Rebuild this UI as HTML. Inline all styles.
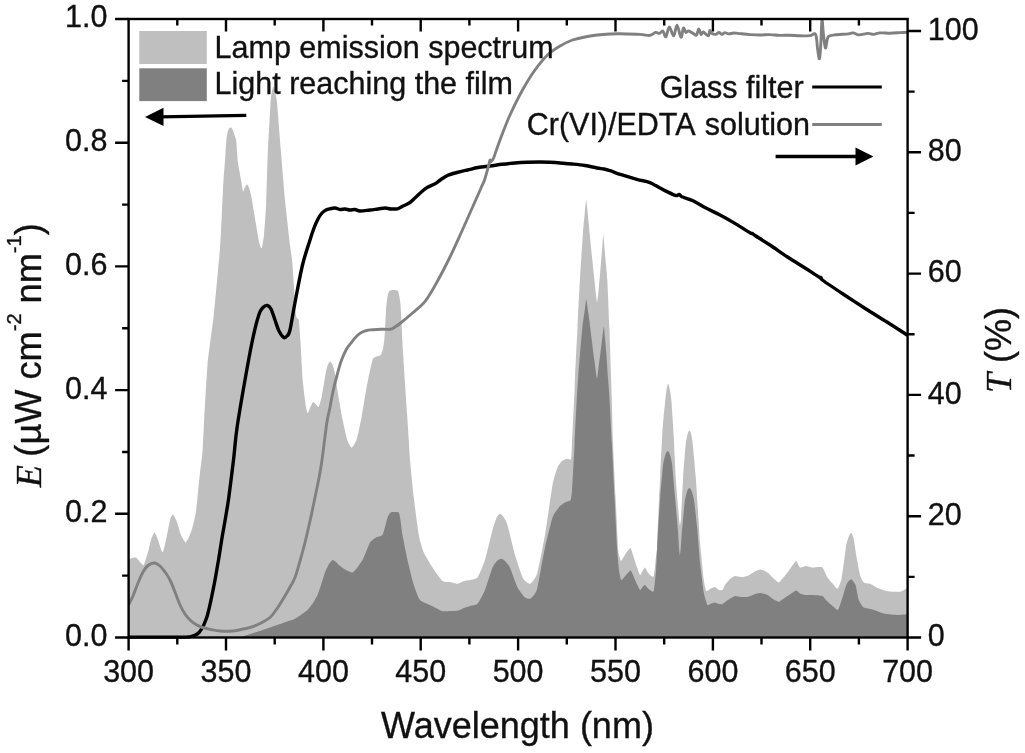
<!DOCTYPE html>
<html lang="en"><head><meta charset="utf-8"><title>Lamp emission and transmittance spectra</title>
<style>html,body{margin:0;padding:0;background:#fff}body{width:1025px;height:753px;overflow:hidden}svg{display:block}text{font-family:"Liberation Sans",Arial,sans-serif;fill:#111}text{stroke:#111;stroke-width:.35px}.tk{font-size:30.5px}.lg{font-size:30.5px}.tt{font-size:36px}.it{font-family:"Liberation Serif","Times New Roman",serif;font-style:italic}</style></head><body>
<svg width="1025" height="753" viewBox="0 0 1025 753">
<rect width="1025" height="753" fill="#fff"/>
<defs><clipPath id="pc"><rect x="128.6" y="19.0" width="779.0" height="619.8"/></clipPath></defs>
<g clip-path="url(#pc)">
<path d="M128.6,560.0 C128.9,559.8 131.3,558.2 132.0,558.0 C132.7,557.8 135.3,557.1 136.0,557.5 C136.7,557.9 139.3,561.3 140.0,562.0 C140.7,562.7 143.0,565.9 143.8,565.0 C144.5,564.1 147.3,554.2 148.0,552.0 C148.7,549.8 150.4,541.8 151.0,540.0 C151.6,538.2 153.9,532.5 154.5,532.5 C155.1,532.5 157.3,538.2 158.0,540.0 C158.7,541.8 161.8,552.5 162.5,552.5 C163.2,552.5 165.3,542.9 166.0,540.0 C166.7,537.1 169.4,522.3 170.0,520.0 C170.6,517.7 172.4,514.3 173.0,514.5 C173.6,514.7 176.3,520.2 177.0,522.0 C177.7,523.8 180.2,533.2 181.0,535.0 C181.8,536.8 184.8,542.3 185.5,542.5 C186.2,542.7 188.4,538.4 189.0,537.0 C189.6,535.6 191.8,529.9 192.5,527.5 C193.2,525.1 195.6,515.0 196.2,510.0 C196.9,505.1 199.4,477.7 200.0,472.5 C200.6,467.3 202.2,456.0 202.5,452.0 C202.8,448.0 203.3,435.8 203.8,428.0 C204.2,420.2 206.6,375.2 207.5,365.0 C208.4,354.8 212.6,325.5 213.8,315.0 C214.9,304.5 219.3,257.0 220.0,248.0 C220.7,239.0 221.5,220.9 221.8,215.0 C222.1,209.1 223.1,187.1 223.4,182.0 C223.7,176.9 224.9,161.7 225.2,158.0 C225.5,154.3 226.1,143.4 226.3,141.0 C226.5,138.6 227.5,132.7 227.8,131.5 C228.1,130.3 229.2,128.4 229.5,128.0 C229.8,127.6 231.0,127.3 231.2,127.5 C231.5,127.7 232.5,129.3 232.8,130.0 C233.1,130.7 234.2,134.0 234.5,135.0 C234.8,136.0 236.0,138.6 236.3,141.0 C236.6,143.4 237.5,159.0 237.8,161.8 C238.1,164.6 239.3,170.1 239.6,172.0 C239.9,173.9 241.2,180.6 241.5,182.4 C241.8,184.2 242.8,191.2 243.1,191.6 C243.4,192.0 244.6,187.6 245.0,187.0 C245.4,186.4 246.8,184.2 247.2,184.4 C247.6,184.6 249.1,187.7 249.5,189.0 C249.9,190.3 251.4,196.8 251.8,198.8 C252.2,200.8 253.4,208.8 253.8,211.0 C254.2,213.2 255.4,220.8 255.9,223.6 C256.4,226.4 258.5,239.8 259.0,242.0 C259.5,244.2 261.2,249.0 261.7,248.3 C262.2,247.6 263.7,238.1 264.1,234.0 C264.5,229.9 265.9,210.6 266.2,203.0 C266.5,195.4 267.6,157.0 267.9,150.0 C268.2,143.0 269.1,129.3 269.3,125.0 C269.5,120.7 270.4,105.0 270.6,102.0 C270.8,99.0 271.5,93.4 271.8,92.0 C272.1,90.6 273.1,86.5 273.4,86.5 C273.7,86.5 274.9,90.6 275.2,92.0 C275.5,93.4 276.7,99.0 277.0,102.0 C277.3,105.0 278.5,120.7 278.8,125.0 C279.1,129.3 280.2,143.2 280.8,150.0 C281.4,156.8 284.2,191.4 285.0,200.0 C285.8,208.6 289.3,239.2 290.0,245.0 C290.7,250.8 292.0,258.7 292.5,265.0 C293.0,271.3 295.4,310.1 296.0,315.0 C296.6,319.9 298.4,317.8 298.8,320.0 C299.1,322.2 300.0,334.6 300.4,340.0 C300.8,345.4 302.2,374.0 302.7,380.0 C303.2,386.0 305.5,404.0 306.0,407.0 C306.5,410.0 307.4,413.2 307.8,413.3 C308.2,413.4 309.5,409.0 310.0,408.0 C310.5,407.0 312.5,402.3 313.0,402.0 C313.5,401.7 315.5,404.1 316.0,404.5 C316.5,404.9 318.2,407.8 318.7,407.0 C319.2,406.2 321.3,399.0 321.9,395.8 C322.5,392.6 325.4,374.7 325.9,371.9 C326.4,369.1 327.6,365.4 328.0,364.5 C328.4,363.6 329.8,361.5 330.2,361.5 C330.6,361.5 332.1,363.6 332.5,364.5 C332.9,365.4 334.1,369.4 334.6,371.9 C335.1,374.4 337.1,388.3 337.8,392.6 C338.5,396.9 341.7,415.4 342.6,419.7 C343.5,424.0 346.6,437.9 347.4,440.4 C348.2,442.9 350.9,447.7 351.8,447.6 C352.7,447.5 356.0,441.6 356.9,438.8 C357.8,436.0 360.8,421.1 361.7,416.5 C362.6,411.9 365.8,391.8 366.5,387.8 C367.2,383.8 369.1,374.5 369.7,371.9 C370.3,369.3 372.3,360.4 372.9,359.0 C373.5,357.6 375.8,356.9 376.5,356.5 C377.2,356.1 380.2,355.8 380.8,355.0 C381.4,354.2 382.9,349.4 383.2,348.0 C383.5,346.6 384.1,341.6 384.3,340.0 C384.5,338.4 384.8,332.7 385.0,330.0 C385.2,327.3 385.8,313.1 386.0,310.0 C386.2,306.9 387.3,297.7 387.6,296.0 C387.9,294.3 388.8,291.5 389.3,291.0 C389.8,290.5 392.9,290.0 393.7,290.0 C394.5,290.0 397.4,290.1 398.0,291.0 C398.6,291.9 399.7,298.2 400.0,300.0 C400.3,301.8 400.6,306.3 400.9,311.0 C401.2,315.7 402.6,345.5 403.0,352.0 C403.4,358.5 404.6,377.4 405.0,383.0 C405.4,388.6 406.8,409.3 407.1,414.0 C407.4,418.7 408.2,431.5 408.5,435.6 C408.8,439.7 409.5,454.4 410.0,460.0 C410.5,465.6 413.0,490.8 413.8,497.5 C414.5,504.2 417.9,530.0 418.8,535.0 C419.6,540.0 422.5,549.6 423.8,552.5 C425.0,555.4 430.8,564.9 432.5,567.5 C434.2,570.1 440.9,579.7 442.5,581.0 C444.1,582.3 448.6,581.8 450.0,582.0 C451.4,582.2 456.2,583.8 457.5,583.8 C458.8,583.7 462.9,581.3 464.0,581.0 C465.1,580.7 468.8,580.3 470.0,580.0 C471.2,579.7 476.1,579.3 477.5,577.5 C478.9,575.7 483.6,564.3 485.0,560.0 C486.4,555.7 491.5,533.8 492.5,530.0 C493.5,526.2 495.8,519.5 496.5,518.0 C497.2,516.5 499.4,513.8 500.0,513.8 C500.6,513.7 502.8,516.0 503.5,517.0 C504.2,518.0 506.5,521.6 507.5,525.0 C508.5,528.4 513.6,550.3 515.0,555.0 C516.4,559.7 521.4,575.0 522.5,577.5 C523.6,580.0 526.3,581.9 527.0,582.5 C527.7,583.1 529.5,583.9 530.0,583.8 C530.5,583.6 532.3,582.0 533.0,581.0 C533.7,580.0 536.4,576.6 537.5,572.5 C538.6,568.4 543.6,542.9 545.0,535.0 C546.4,527.1 551.4,491.1 552.5,485.0 C553.6,478.9 556.6,469.7 557.5,467.5 C558.4,465.3 561.1,461.8 562.0,461.0 C562.9,460.2 566.7,458.9 567.5,458.8 C568.3,458.6 570.6,460.4 571.0,459.0 C571.4,457.6 571.7,449.4 572.0,443.2 C572.3,437.0 574.3,396.1 574.6,390.0 C574.9,383.9 574.8,381.2 575.1,375.6 C575.4,370.0 577.1,336.4 577.5,327.8 C577.9,319.2 579.4,288.4 579.9,280.0 C580.4,271.6 582.4,240.7 582.8,234.8 C583.2,229.0 584.3,218.1 584.6,215.0 C584.9,211.9 585.9,200.0 586.2,200.0 C586.5,200.0 587.6,211.9 587.9,215.0 C588.2,218.1 589.4,230.3 589.8,234.8 C590.2,239.3 592.3,259.5 592.8,264.7 C593.3,269.9 595.4,289.2 595.8,292.6 C596.2,296.0 596.7,302.7 597.0,302.3 C597.3,301.9 598.5,292.0 598.8,288.6 C599.1,285.2 600.5,268.4 600.8,264.7 C601.1,261.0 602.0,250.7 602.2,248.0 C602.4,245.3 603.1,234.8 603.3,234.8 C603.5,234.8 604.3,245.3 604.5,248.0 C604.7,250.7 605.7,261.8 606.0,264.7 C606.3,267.6 607.1,277.3 607.3,280.0 C607.5,282.7 607.8,290.3 608.0,294.6 C608.2,298.9 609.1,320.5 609.4,327.8 C609.7,335.1 610.8,369.1 611.0,375.6 C611.2,382.1 611.6,393.9 611.8,400.0 C612.0,406.1 612.7,434.4 613.0,443.0 C613.3,451.6 615.0,486.4 615.5,496.0 C616.0,505.6 617.8,544.1 618.2,549.6 C618.6,555.1 619.2,556.0 619.5,557.0 C619.8,558.0 620.7,561.4 621.2,561.0 C621.8,560.6 625.2,554.2 626.0,553.0 C626.8,551.8 629.9,547.8 630.5,548.0 C631.1,548.2 632.5,553.5 633.0,555.0 C633.5,556.5 635.6,563.2 636.2,565.0 C636.9,566.8 639.4,574.5 640.0,575.0 C640.6,575.5 642.0,571.7 642.5,571.0 C643.0,570.3 644.5,567.4 645.0,567.5 C645.5,567.6 647.0,571.3 647.5,572.0 C648.0,572.7 649.4,574.6 650.0,575.0 C650.6,575.4 653.2,577.8 653.8,576.0 C654.3,574.2 656.0,557.5 656.2,555.0 C656.5,552.5 656.8,551.2 657.0,548.0 C657.2,544.8 657.8,525.4 658.1,519.0 C658.4,512.6 659.8,484.1 660.2,476.4 C660.6,468.7 661.9,440.5 662.3,433.8 C662.7,427.1 664.7,405.8 665.1,402.0 C665.5,398.2 666.0,393.4 666.2,392.0 C666.4,390.6 666.9,387.2 667.1,386.5 C667.3,385.8 667.9,383.8 668.1,383.8 C668.3,383.8 668.9,385.8 669.1,386.5 C669.3,387.2 670.0,390.6 670.2,392.0 C670.4,393.4 671.2,398.2 671.5,402.0 C671.8,405.8 673.2,427.1 673.6,433.8 C674.0,440.5 675.3,469.5 675.7,476.4 C676.1,483.3 677.9,505.6 678.3,510.0 C678.7,514.4 679.6,524.2 679.8,525.0 C680.0,525.8 680.6,523.3 680.9,518.9 C681.2,514.5 682.8,483.1 683.2,476.4 C683.6,469.7 685.3,448.1 685.7,444.5 C686.1,440.9 687.0,437.1 687.2,436.0 C687.4,434.9 688.1,432.5 688.3,432.0 C688.5,431.5 689.2,430.6 689.4,430.6 C689.6,430.6 690.3,431.5 690.5,432.0 C690.7,432.5 691.4,434.9 691.6,436.0 C691.8,437.1 692.4,440.9 692.8,444.5 C693.2,448.1 695.2,469.7 695.7,476.4 C696.2,483.1 698.1,513.0 698.5,518.9 C698.9,524.8 699.5,537.0 700.0,542.5 C700.5,548.0 703.2,575.6 703.8,580.0 C704.3,584.4 705.7,590.2 706.2,591.0 C706.8,591.8 709.2,589.4 710.0,589.0 C710.8,588.6 714.2,586.9 715.0,587.0 C715.8,587.1 718.3,589.7 719.0,590.0 C719.7,590.3 722.0,590.5 722.5,590.0 C723.0,589.5 724.3,586.0 725.0,585.0 C725.7,584.0 729.1,579.8 730.0,579.0 C730.9,578.2 734.0,576.2 735.0,576.0 C736.0,575.8 739.9,577.0 741.0,577.0 C742.1,577.0 746.3,576.5 747.5,576.0 C748.7,575.5 752.9,572.6 754.0,572.0 C755.1,571.4 758.8,569.5 760.0,569.5 C761.2,569.5 766.3,571.7 767.5,572.5 C768.7,573.3 772.0,577.1 773.0,578.0 C774.0,578.9 777.9,582.5 778.8,582.5 C779.6,582.5 782.2,578.9 783.0,578.0 C783.8,577.1 786.7,573.6 787.5,572.5 C788.3,571.4 791.2,567.0 792.0,566.0 C792.8,565.0 795.5,560.9 796.2,561.0 C797.0,561.1 799.1,567.0 800.0,567.5 C800.9,568.0 804.9,566.0 806.0,566.0 C807.1,566.0 811.4,567.4 812.5,567.5 C813.6,567.6 817.1,567.0 818.0,567.0 C818.9,567.0 821.6,566.6 822.5,567.5 C823.4,568.4 826.6,576.1 827.5,577.5 C828.4,578.9 831.1,582.0 832.0,583.0 C832.9,584.0 836.7,589.0 837.5,588.8 C838.3,588.5 840.7,582.4 841.2,580.0 C841.8,577.6 843.5,565.1 844.0,562.0 C844.5,558.9 845.8,547.3 846.2,545.0 C846.7,542.7 848.5,537.1 849.0,536.0 C849.5,534.9 850.8,532.8 851.2,533.0 C851.7,533.2 853.0,536.0 853.5,538.0 C854.0,540.0 855.7,551.7 856.2,555.0 C856.8,558.3 859.3,572.5 860.0,575.0 C860.7,577.5 862.9,581.7 863.8,582.5 C864.6,583.3 868.8,583.3 870.0,583.8 C871.2,584.2 875.9,587.3 877.5,588.0 C879.1,588.7 885.5,590.9 887.5,591.2 C889.5,591.6 898.3,592.0 900.0,591.8 C901.7,591.5 905.6,589.1 906.2,588.8 C906.9,588.4 907.5,588.1 907.6,588.0 L907.6,637.5 L128.6,637.5 Z" fill="#bfbfbf"/>
<path d="M240.0,637.5 C240.9,637.2 248.2,634.6 250.0,634.0 C251.8,633.4 258.2,631.6 260.0,631.0 C261.8,630.4 267.9,628.2 270.0,627.5 C272.1,626.8 280.8,623.8 283.0,623.0 C285.2,622.2 293.3,619.6 295.0,618.8 C296.7,617.9 300.9,614.8 302.0,614.0 C303.1,613.2 306.5,611.0 307.5,610.0 C308.5,609.0 312.1,604.4 313.0,603.0 C313.9,601.6 316.8,596.6 317.5,595.0 C318.2,593.4 320.3,587.0 321.0,585.0 C321.7,583.0 324.3,574.4 325.0,572.5 C325.7,570.6 328.3,565.1 329.0,564.0 C329.7,562.9 331.9,560.2 332.5,560.0 C333.1,559.8 335.3,561.5 336.0,562.0 C336.7,562.5 339.1,565.3 340.0,566.0 C340.9,566.7 344.9,569.4 346.0,570.0 C347.1,570.6 351.5,572.7 352.5,572.5 C353.5,572.3 356.1,569.1 357.0,568.0 C357.9,566.9 361.7,561.4 362.5,560.0 C363.3,558.6 365.3,553.6 366.0,552.0 C366.7,550.4 369.4,543.6 370.0,542.5 C370.6,541.4 372.0,540.5 372.5,540.0 C373.0,539.5 375.1,538.0 376.0,537.5 C376.9,537.0 381.7,535.9 382.5,535.0 C383.3,534.1 384.6,528.6 385.0,527.0 C385.4,525.4 387.1,518.8 387.5,517.5 C387.9,516.2 389.6,513.5 390.0,513.0 C390.4,512.5 391.7,512.0 392.5,512.0 C393.3,512.0 398.0,511.8 398.8,512.5 C399.5,513.2 400.2,518.0 400.5,520.0 C400.8,522.0 401.9,531.4 402.5,535.0 C403.1,538.6 406.5,555.5 407.5,560.0 C408.5,564.5 412.6,581.4 413.8,585.0 C414.9,588.6 418.5,598.2 420.0,600.0 C421.5,601.8 428.6,604.3 430.0,605.0 C431.4,605.7 434.9,607.4 436.0,608.0 C437.1,608.6 441.2,611.0 442.5,611.2 C443.8,611.5 448.6,611.0 450.0,611.0 C451.4,611.0 456.2,611.0 457.5,610.8 C458.8,610.5 462.9,608.4 464.0,608.0 C465.1,607.6 468.8,606.4 470.0,606.0 C471.2,605.6 476.1,605.2 477.5,603.8 C478.9,602.3 483.6,593.3 485.0,590.0 C486.4,586.7 491.4,570.1 492.5,567.5 C493.6,564.9 496.2,561.8 497.0,561.0 C497.8,560.2 500.5,558.8 501.2,558.8 C502.0,558.8 504.2,560.2 505.0,561.0 C505.8,561.8 508.9,565.1 510.0,567.5 C511.1,569.9 516.1,584.8 517.5,587.5 C518.9,590.2 523.9,596.5 525.0,597.5 C526.1,598.5 529.2,599.0 530.0,598.8 C530.8,598.5 533.3,596.0 534.0,595.0 C534.7,594.0 536.5,591.8 537.5,587.5 C538.5,583.2 543.6,553.8 545.0,547.5 C546.4,541.2 551.4,520.9 552.5,517.5 C553.6,514.1 556.3,511.0 557.0,510.0 C557.7,509.0 559.3,506.7 560.0,506.0 C560.7,505.3 564.2,502.9 565.0,502.5 C565.8,502.1 568.2,501.2 568.8,501.0 C569.3,500.8 570.3,500.9 570.6,500.0 C570.9,499.1 571.6,496.1 572.0,491.0 C572.4,485.9 574.2,451.4 574.6,443.2 C575.0,435.0 576.4,406.1 576.7,400.0 C577.0,393.9 577.8,382.1 578.3,375.6 C578.8,369.1 581.7,333.5 582.3,327.8 C582.9,322.1 584.1,314.5 584.5,312.0 C584.9,309.5 586.0,299.5 586.3,299.5 C586.6,299.5 587.8,309.5 588.2,312.0 C588.6,314.5 589.8,323.5 590.3,327.8 C590.8,332.1 593.7,355.1 594.3,359.7 C594.9,364.3 596.6,378.3 597.0,378.8 C597.4,379.3 598.5,367.4 598.8,365.0 C599.1,362.6 600.3,354.1 600.6,351.7 C600.9,349.3 602.0,340.3 602.3,338.0 C602.6,335.7 603.6,326.2 603.8,326.2 C604.0,326.2 604.8,335.7 605.0,338.0 C605.2,340.3 605.9,348.3 606.2,351.7 C606.5,355.1 607.5,371.7 607.8,375.6 C608.1,379.5 608.9,388.9 609.3,395.0 C609.7,401.1 611.4,434.1 611.9,443.2 C612.4,452.3 614.0,486.8 614.5,496.4 C615.0,506.0 616.8,543.0 617.2,549.6 C617.6,556.2 618.6,567.3 619.0,570.0 C619.4,572.7 620.6,579.5 621.2,580.0 C621.9,580.5 625.2,575.9 626.0,575.0 C626.8,574.1 629.9,570.5 630.5,570.5 C631.1,570.5 632.5,573.9 633.0,575.0 C633.5,576.1 635.6,581.1 636.2,582.5 C636.9,583.9 639.4,589.6 640.0,590.0 C640.6,590.4 642.0,587.5 642.5,587.0 C643.0,586.5 644.5,584.9 645.0,585.0 C645.5,585.1 647.0,587.5 647.5,588.0 C648.0,588.5 649.4,589.7 650.0,590.0 C650.6,590.3 653.2,593.0 653.8,591.0 C654.3,589.0 655.9,573.0 656.2,567.5 C656.6,562.0 657.7,536.3 658.1,530.0 C658.5,523.7 659.8,503.5 660.2,497.7 C660.6,491.9 662.6,469.3 663.0,465.7 C663.4,462.1 664.2,459.1 664.5,458.0 C664.8,456.9 665.7,453.6 666.0,453.0 C666.3,452.4 667.4,451.0 667.7,451.0 C668.0,451.0 669.1,452.4 669.4,453.0 C669.7,453.6 670.6,456.9 670.9,458.0 C671.2,459.1 671.9,462.1 672.3,465.7 C672.7,469.3 674.6,491.9 675.1,497.7 C675.6,503.5 677.5,525.5 677.9,530.0 C678.3,534.5 678.8,545.8 679.0,548.0 C679.2,550.2 679.6,555.0 679.8,555.0 C680.0,555.0 680.6,550.2 680.8,548.0 C681.0,545.8 681.7,534.1 682.1,530.0 C682.5,525.9 684.3,505.1 684.7,501.9 C685.1,498.7 686.0,495.1 686.3,494.0 C686.6,492.9 687.5,490.0 687.8,489.5 C688.1,489.0 689.1,488.1 689.4,488.1 C689.7,488.1 690.7,489.0 691.0,489.5 C691.3,490.0 692.3,492.9 692.6,494.0 C692.9,495.1 693.9,498.7 694.3,501.9 C694.7,505.1 697.0,525.9 697.4,530.0 C697.8,534.1 698.5,545.1 698.8,548.0 C699.0,550.9 699.5,558.5 700.0,562.5 C700.5,566.5 703.1,588.7 703.8,592.5 C704.4,596.3 706.8,604.0 707.5,605.0 C708.2,606.0 710.3,603.7 711.0,603.5 C711.7,603.3 714.3,602.5 715.0,602.5 C715.7,602.5 718.3,603.9 719.0,604.0 C719.7,604.1 721.7,604.4 722.5,604.0 C723.3,603.6 726.9,600.7 728.0,600.0 C729.1,599.3 733.8,596.3 735.0,596.0 C736.2,595.7 739.9,596.9 741.0,597.0 C742.1,597.1 746.3,597.2 747.5,597.0 C748.7,596.8 752.9,594.9 754.0,594.5 C755.1,594.1 758.8,593.0 760.0,593.0 C761.2,593.0 766.3,594.5 767.5,595.0 C768.7,595.5 772.0,598.4 773.0,599.0 C774.0,599.6 777.9,601.8 778.8,601.8 C779.6,601.8 782.2,599.5 783.0,599.0 C783.8,598.5 786.7,596.5 787.5,596.0 C788.3,595.5 791.2,593.5 792.0,593.0 C792.8,592.5 795.5,590.5 796.2,590.5 C797.0,590.5 799.2,593.1 800.0,593.5 C800.8,593.9 803.8,594.9 805.0,595.0 C806.2,595.1 811.4,594.9 813.0,595.0 C814.6,595.1 821.3,595.5 822.5,596.0 C823.7,596.5 825.3,599.3 826.0,600.0 C826.7,600.7 829.0,602.9 830.0,603.8 C831.0,604.6 836.6,609.9 837.5,610.0 C838.4,610.1 839.5,606.1 840.0,605.0 C840.5,603.9 842.0,598.9 842.5,597.5 C843.0,596.1 844.5,590.4 845.0,589.0 C845.5,587.6 846.9,583.4 847.5,582.5 C848.1,581.6 850.5,579.0 851.2,579.2 C852.0,579.5 854.8,583.1 855.5,585.0 C856.2,586.9 858.0,598.0 858.8,600.0 C859.5,602.0 862.5,606.6 863.8,607.5 C865.0,608.4 870.6,608.9 872.5,609.5 C874.4,610.1 882.8,613.3 885.0,613.8 C887.2,614.2 895.6,615.0 897.5,615.0 C899.4,615.0 905.3,614.3 906.2,614.2 C907.2,614.2 907.5,614.0 907.6,614.0 L907.6,637.5 L240.0,637.5 Z" fill="#808080"/>
<path d="M128.6,637.3 C133.8,637.3 150.4,637.3 160.0,637.3 C169.6,637.3 180.9,637.3 186.0,637.2 C191.1,637.1 189.0,636.9 190.5,636.6 C192.0,636.3 193.6,636.0 195.0,635.3 C196.4,634.6 197.8,633.8 199.0,632.5 C200.2,631.2 201.5,629.2 202.5,627.5 C203.5,625.8 204.2,624.1 205.0,622.0 C205.8,619.9 206.5,618.7 207.5,615.0 C208.5,611.3 209.8,605.8 211.0,600.0 C212.2,594.2 213.8,586.7 215.0,580.0 C216.2,573.3 217.2,567.5 218.5,560.0 C219.8,552.5 221.2,542.5 222.5,535.0 C223.8,527.5 225.0,521.2 226.0,515.0 C227.0,508.8 227.5,506.7 228.8,497.5 C230.0,488.3 232.1,471.6 233.5,460.0 C234.9,448.4 235.1,441.3 237.0,428.0 C238.9,414.7 242.4,394.7 245.0,380.0 C247.6,365.3 250.2,350.8 252.5,340.0 C254.8,329.2 257.0,320.4 258.8,315.0 C260.5,309.6 261.5,309.1 263.0,307.5 C264.5,305.9 266.2,305.2 267.5,305.5 C268.8,305.8 269.8,306.6 271.0,309.0 C272.2,311.4 273.7,316.3 275.0,320.0 C276.3,323.7 277.5,328.1 279.0,331.0 C280.5,333.9 282.4,336.7 283.8,337.5 C285.1,338.3 286.0,337.2 287.0,336.0 C288.0,334.8 288.7,335.6 290.0,330.0 C291.3,324.4 292.9,313.3 295.0,302.5 C297.1,291.7 300.0,275.4 302.5,265.0 C305.0,254.6 308.1,246.2 310.0,240.0 C311.9,233.8 312.7,231.5 314.0,228.0 C315.3,224.5 316.7,221.5 318.0,219.0 C319.3,216.5 320.7,214.5 322.0,213.0 C323.3,211.5 324.7,210.7 326.0,210.0 C327.3,209.3 328.5,209.1 330.0,208.8 C331.5,208.4 333.3,207.9 335.0,208.0 C336.7,208.1 338.3,209.3 340.0,209.5 C341.7,209.7 343.3,208.9 345.0,209.0 C346.7,209.1 348.3,209.9 350.0,210.0 C351.7,210.1 353.3,209.3 355.0,209.5 C356.7,209.7 357.5,210.9 360.0,211.0 C362.5,211.1 367.0,210.3 370.0,210.0 C373.0,209.7 375.5,209.3 378.0,209.0 C380.5,208.7 382.8,208.0 385.0,208.0 C387.2,208.0 388.9,208.9 391.0,209.0 C393.1,209.1 395.5,209.2 397.5,208.8 C399.5,208.2 400.9,207.0 403.0,206.0 C405.1,205.0 407.8,204.0 410.0,202.5 C412.2,201.0 413.9,198.9 416.0,197.0 C418.1,195.1 420.5,192.7 422.5,191.0 C424.5,189.3 425.9,188.2 428.0,187.0 C430.1,185.8 432.8,185.0 435.0,183.8 C437.2,182.5 438.9,180.9 441.0,179.5 C443.1,178.1 444.8,176.7 447.5,175.5 C450.2,174.3 453.7,173.4 457.0,172.5 C460.3,171.6 464.0,170.8 467.5,170.0 C471.0,169.2 474.2,168.2 478.0,167.5 C481.8,166.8 486.0,166.5 490.0,166.0 C494.0,165.5 497.8,164.8 502.0,164.3 C506.2,163.8 510.8,163.3 515.0,163.0 C519.2,162.7 522.8,162.5 527.0,162.3 C531.2,162.1 536.2,162.0 540.0,162.0 C543.8,162.0 546.7,162.1 550.0,162.3 C553.3,162.5 556.3,162.7 560.0,163.0 C563.7,163.3 567.8,163.6 572.0,164.0 C576.2,164.4 580.8,164.8 585.0,165.5 C589.2,166.2 593.8,167.4 597.0,168.0 C600.2,168.6 601.8,168.6 604.0,169.0 C606.2,169.4 607.1,169.8 610.0,170.7 C612.9,171.6 616.7,173.3 621.2,174.7 C625.7,176.1 632.1,178.0 636.8,179.3 C641.5,180.6 646.2,181.2 649.3,182.3 C652.4,183.4 653.0,184.2 655.6,185.6 C658.2,187.0 661.6,189.0 664.9,190.6 C668.1,192.2 673.0,194.5 675.1,195.3 C677.2,196.1 676.9,195.3 677.5,195.2 C678.1,195.1 678.5,194.4 679.0,194.5 C679.5,194.6 680.0,195.2 680.5,195.6 C681.0,196.0 680.0,196.0 682.1,196.8 C684.2,197.7 689.1,198.9 693.0,200.7 C696.9,202.5 701.1,205.5 705.5,207.8 C709.9,210.2 714.9,212.3 719.6,214.8 C724.3,217.3 728.5,219.6 733.6,222.6 C738.7,225.6 746.9,231.0 750.0,232.8 C753.1,234.6 751.7,233.1 752.5,233.5 C753.3,233.9 752.1,233.6 755.0,235.5 C757.9,237.4 764.6,241.4 770.0,245.0 C775.4,248.6 781.7,253.2 787.5,257.0 C793.3,260.8 799.8,264.7 805.0,268.0 C810.2,271.3 816.3,275.4 819.0,277.0 C821.7,278.6 820.3,277.0 821.0,277.6 C821.7,278.2 819.3,277.8 823.0,280.5 C826.7,283.2 835.9,289.3 843.0,294.0 C850.1,298.7 858.3,304.1 865.6,308.8 C872.9,313.4 880.0,317.6 887.0,322.0 C894.0,326.4 904.2,333.1 907.6,335.3" fill="none" stroke="#000" stroke-width="3.4" stroke-linejoin="round" stroke-linecap="butt"/>
<path d="M128.6,605.0 C129.3,603.5 131.4,599.7 133.0,596.0 C134.6,592.3 136.3,587.0 138.0,583.0 C139.7,579.0 141.3,574.9 143.0,572.0 C144.7,569.1 146.1,567.0 148.0,565.5 C149.9,564.0 152.5,562.9 154.5,563.0 C156.5,563.1 158.2,564.5 160.0,566.0 C161.8,567.5 163.3,569.7 165.0,572.0 C166.7,574.3 168.3,576.7 170.0,580.0 C171.7,583.3 173.3,587.8 175.0,592.0 C176.7,596.2 178.3,601.3 180.0,605.0 C181.7,608.7 183.3,611.5 185.0,614.0 C186.7,616.5 188.2,618.2 190.0,620.0 C191.8,621.8 193.9,623.2 196.0,624.5 C198.1,625.8 200.0,626.7 202.5,627.5 C205.0,628.3 208.1,628.9 211.0,629.5 C213.9,630.1 216.4,630.8 220.0,631.0 C223.6,631.2 229.0,631.2 232.5,631.0 C236.0,630.8 238.1,630.1 241.0,629.5 C243.9,628.9 246.8,628.5 250.0,627.5 C253.2,626.5 256.7,625.2 260.0,623.5 C263.3,621.8 267.3,619.8 270.0,617.5 C272.7,615.2 273.9,612.9 276.0,610.0 C278.1,607.1 280.3,603.5 282.5,600.0 C284.7,596.5 286.9,592.8 289.0,589.0 C291.1,585.2 293.2,582.2 295.0,577.5 C296.8,572.8 298.3,566.8 300.0,561.0 C301.7,555.2 303.3,549.2 305.0,542.5 C306.7,535.8 308.3,528.5 310.0,521.0 C311.7,513.5 313.5,504.7 315.0,497.5 C316.5,490.3 317.8,484.2 319.0,478.0 C320.2,471.8 320.7,469.2 322.0,460.0 C323.3,450.8 325.5,431.7 326.8,423.0 C328.1,414.3 328.9,413.2 329.9,408.0 C330.9,402.8 331.7,397.5 332.9,392.0 C334.1,386.5 335.7,380.2 337.1,375.0 C338.5,369.8 339.7,365.2 341.2,361.0 C342.7,356.8 344.6,352.6 346.3,349.5 C348.0,346.4 349.8,344.5 351.5,342.3 C353.2,340.1 354.9,338.0 356.6,336.3 C358.3,334.6 359.9,333.3 361.8,332.3 C363.7,331.3 366.2,330.6 368.0,330.2 C369.8,329.8 370.5,330.0 372.5,329.8 C374.5,329.6 377.1,329.3 380.0,329.2 C382.9,329.1 387.5,329.7 390.0,329.3 C392.5,328.9 393.3,328.0 395.0,327.0 C396.7,326.0 397.1,325.8 400.0,323.5 C402.9,321.2 408.2,316.8 412.5,313.0 C416.8,309.2 421.4,306.0 425.5,300.8 C429.6,295.6 433.1,289.0 437.0,282.0 C440.9,275.0 444.9,267.3 449.0,259.0 C453.1,250.7 457.4,241.0 461.5,232.0 C465.6,223.0 470.2,212.3 473.5,205.0 C476.8,197.7 479.2,192.2 481.0,188.0 C482.8,183.8 483.2,183.8 484.5,180.0 C485.8,176.2 487.8,168.3 488.8,165.0 C489.7,161.7 489.6,160.6 490.0,160.0 C490.4,159.4 490.6,161.9 491.2,161.5 C491.8,161.1 492.3,161.1 493.8,157.5 C495.2,153.9 497.3,147.1 500.0,140.0 C502.7,132.9 506.2,123.3 510.0,115.0 C513.8,106.7 518.3,97.5 522.5,90.0 C526.7,82.5 530.8,75.8 535.0,70.0 C539.2,64.2 543.3,59.0 547.5,55.0 C551.7,51.0 555.8,48.5 560.0,46.0 C564.2,43.5 568.3,41.5 572.5,40.0 C576.7,38.5 580.8,37.8 585.0,37.0 C589.2,36.2 593.3,35.5 597.5,35.0 C601.7,34.5 606.2,34.2 610.0,34.0 C613.8,33.8 615.0,33.7 620.0,33.8 C625.0,33.9 635.0,34.1 640.0,34.4 C645.0,34.7 647.2,35.7 649.8,35.4 C652.4,35.1 654.0,32.7 655.6,32.4 C657.2,32.1 658.3,33.6 659.5,33.4 C660.7,33.2 661.8,30.4 662.9,31.0 C664.0,31.6 664.8,37.5 665.9,36.8 C667.0,36.1 668.0,27.1 669.3,27.0 C670.6,26.9 672.4,36.2 673.7,35.9 C675.0,35.6 675.8,24.9 677.0,25.1 C678.2,25.3 679.9,36.8 681.0,37.3 C682.1,37.8 682.6,28.8 683.4,28.0 C684.2,27.2 685.0,31.9 685.9,32.4 C686.8,32.9 687.3,30.7 688.8,31.0 C690.2,31.3 693.3,33.8 694.6,34.4 C695.9,35.0 695.9,35.8 696.6,34.9 C697.3,34.0 698.1,29.1 698.8,29.0 C699.5,28.9 700.2,33.9 701.0,34.4 C701.8,34.9 702.2,31.8 703.4,32.0 C704.6,32.2 707.2,36.1 708.3,35.9 C709.4,35.6 709.3,31.0 709.8,30.5 C710.3,30.0 710.2,32.4 711.2,33.0 C712.2,33.6 714.3,34.5 715.6,34.4 C716.9,34.3 717.9,32.4 719.0,32.4 C720.1,32.4 721.0,34.4 722.0,34.4 C723.0,34.4 723.8,32.7 724.9,32.6 C726.0,32.5 727.3,33.8 728.8,33.9 C730.3,34.0 731.8,33.0 733.7,33.0 C735.6,33.0 737.3,33.3 740.0,33.6 C742.7,33.9 746.7,34.4 750.0,34.6 C753.3,34.8 756.7,35.0 760.0,35.0 C763.3,35.0 766.7,34.5 770.0,34.6 C773.3,34.7 776.7,35.3 780.0,35.4 C783.3,35.5 786.7,35.1 790.0,35.2 C793.3,35.3 796.7,35.7 800.0,35.8 C803.3,35.9 807.4,35.8 810.0,35.6 C812.6,35.4 814.3,32.2 815.6,34.4 C816.9,36.6 817.0,44.9 817.6,49.0 C818.2,53.1 819.0,59.6 819.5,58.8 C820.0,58.0 820.4,50.5 820.8,44.0 C821.2,37.5 821.6,21.4 822.0,19.8 C822.4,18.2 822.8,29.7 823.4,34.4 C824.0,39.1 824.8,47.2 825.4,48.0 C826.0,48.8 826.7,41.2 827.3,39.3 C827.9,37.3 827.6,37.0 828.8,36.3 C830.0,35.6 831.4,35.3 834.6,34.9 C837.9,34.5 845.2,34.2 848.3,33.9 C851.4,33.6 851.4,32.7 853.2,32.9 C855.0,33.1 856.6,34.8 859.0,34.9 C861.4,35.0 865.3,33.5 867.8,33.4 C870.2,33.3 871.7,34.5 873.7,34.4 C875.7,34.3 877.3,33.1 880.0,32.9 C882.7,32.7 886.7,33.2 890.0,33.2 C893.3,33.2 897.1,32.8 900.0,32.6 C902.9,32.5 906.3,32.3 907.6,32.3" fill="none" stroke="#808080" stroke-width="2.9" stroke-linejoin="round"/>
</g>
<g stroke="#000" stroke-width="2.4" fill="none" stroke-linecap="butt">
<rect x="128.6" y="19.0" width="779.0" height="618.5"/>
<path d="M128.6,637.5 v13.0 M177.3,637.5 v7.0 M177.3,19.0 v6.5 M226.0,637.5 v13.0 M226.0,19.0 v12.5 M274.7,637.5 v7.0 M274.7,19.0 v6.5 M323.4,637.5 v13.0 M323.4,19.0 v12.5 M372.0,637.5 v7.0 M372.0,19.0 v6.5 M420.7,637.5 v13.0 M420.7,19.0 v12.5 M469.4,637.5 v7.0 M469.4,19.0 v6.5 M518.1,637.5 v13.0 M518.1,19.0 v12.5 M566.8,637.5 v7.0 M566.8,19.0 v6.5 M615.5,637.5 v13.0 M615.5,19.0 v12.5 M664.2,637.5 v7.0 M664.2,19.0 v6.5 M712.9,637.5 v13.0 M712.9,19.0 v12.5 M761.5,637.5 v7.0 M761.5,19.0 v6.5 M810.2,637.5 v13.0 M810.2,19.0 v12.5 M858.9,637.5 v7.0 M858.9,19.0 v6.5 M907.6,637.5 v13.0 M128.6,637.5 h-13.5 M128.6,575.6 h-6.5 M128.6,513.8 h-13.5 M128.6,452.0 h-6.5 M128.6,390.1 h-13.5 M128.6,328.2 h-6.5 M128.6,266.4 h-13.5 M128.6,204.6 h-6.5 M128.6,142.7 h-13.5 M128.6,80.9 h-6.5 M128.6,19.0 h-13.5 M907.6,637.5 h13.5 M907.6,576.9 h7.0 M907.6,516.2 h13.5 M907.6,455.5 h7.0 M907.6,394.9 h13.5 M907.6,334.2 h7.0 M907.6,273.6 h13.5 M907.6,212.9 h7.0 M907.6,152.3 h13.5 M907.6,91.6 h7.0 M907.6,31.0 h13.5"/>
</g>
<text class="tk" x="128.6" y="682.3" text-anchor="middle">300</text>
<text class="tk" x="226.0" y="682.3" text-anchor="middle">350</text>
<text class="tk" x="323.4" y="682.3" text-anchor="middle">400</text>
<text class="tk" x="420.7" y="682.3" text-anchor="middle">450</text>
<text class="tk" x="518.1" y="682.3" text-anchor="middle">500</text>
<text class="tk" x="615.5" y="682.3" text-anchor="middle">550</text>
<text class="tk" x="712.9" y="682.3" text-anchor="middle">600</text>
<text class="tk" x="810.2" y="682.3" text-anchor="middle">650</text>
<text class="tk" x="907.6" y="682.3" text-anchor="middle">700</text>
<text class="tk" x="107.4" y="645.9" text-anchor="end">0.0</text>
<text class="tk" x="107.4" y="522.2" text-anchor="end">0.2</text>
<text class="tk" x="107.4" y="398.5" text-anchor="end">0.4</text>
<text class="tk" x="107.4" y="274.8" text-anchor="end">0.6</text>
<text class="tk" x="107.4" y="151.1" text-anchor="end">0.8</text>
<text class="tk" x="107.4" y="27.4" text-anchor="end">1.0</text>
<text class="tk" x="927.8" y="646.1">0</text>
<text class="tk" x="927.8" y="524.8">20</text>
<text class="tk" x="927.8" y="403.5">40</text>
<text class="tk" x="927.8" y="282.2">60</text>
<text class="tk" x="927.8" y="160.9">80</text>
<text class="tk" x="927.8" y="39.6">100</text>
<text class="tt" x="517.5" y="738" text-anchor="middle">Wavelength (nm)</text>
<text class="tt" transform="translate(41,356.8) rotate(-90)" text-anchor="middle" style="font-size:36.2px"><tspan class="it" dx="1.5">E</tspan><tspan dx="-1.5"> (µW cm</tspan><tspan font-size="20" dy="-20.5">-2</tspan><tspan dy="20.5"> nm</tspan><tspan font-size="20" dy="-20.5">-1</tspan><tspan dy="20.5">)</tspan></text>
<text class="tt" transform="translate(1011,350) rotate(-90)" text-anchor="middle"><tspan class="it">T</tspan> (%)</text>
<rect x="139.3" y="31" width="67.5" height="33" fill="#bfbfbf"/>
<rect x="139.3" y="68.3" width="67.5" height="32.8" fill="#808080"/>
<text class="lg" x="214.6" y="57.8">Lamp emission spectrum</text>
<text class="lg" x="214.6" y="94.4">Light reaching the film</text>
<path d="M246.3,115.4 L160,116.9" stroke="#000" stroke-width="3.3" fill="none"/>
<path d="M145,117 L163.5,107.8 L163.5,126 Z" fill="#000"/>
<text class="lg" x="803.7" y="98.2" text-anchor="end">Glass filter</text>
<text class="lg" x="810" y="134.6" text-anchor="end" word-spacing="2.5">Cr(VI)/EDTA solution</text>
<path d="M812.2,87 H881.8" stroke="#000" stroke-width="3.2" fill="none"/>
<path d="M812.2,124.5 H881.8" stroke="#808080" stroke-width="3" fill="none"/>
<path d="M775.6,156.5 H858" stroke="#000" stroke-width="3.3" fill="none"/>
<path d="M873.4,156.5 L855.5,147.6 L855.5,165.4 Z" fill="#000"/>
</svg></body></html>
